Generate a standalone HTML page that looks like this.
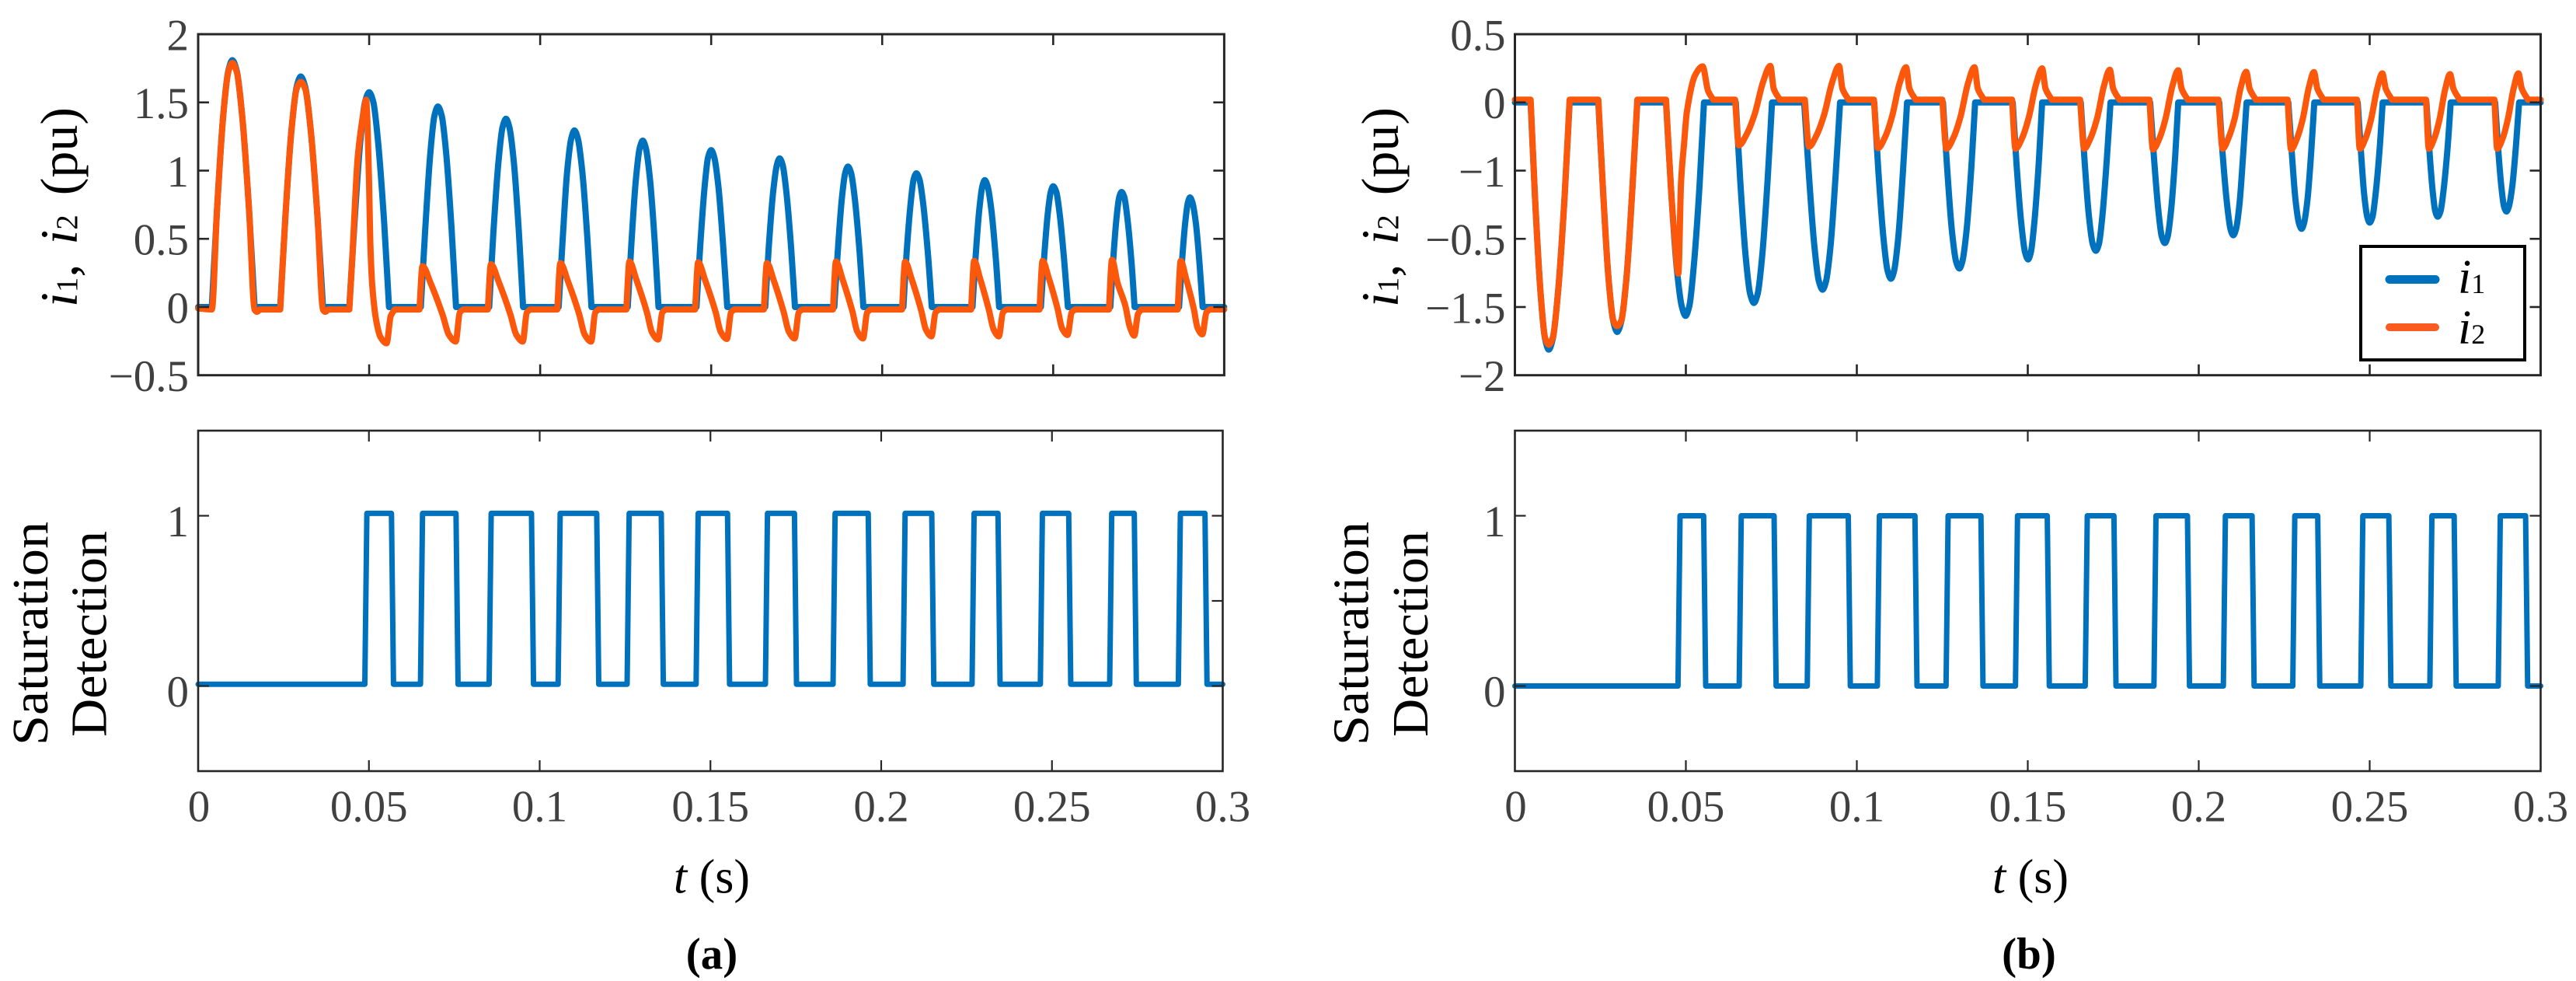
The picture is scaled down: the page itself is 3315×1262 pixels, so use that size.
<!DOCTYPE html>
<html lang="en">
<head>
<meta charset="utf-8">
<title>Saturation detection current waveforms</title>
<style>
html,body{margin:0;padding:0;background:#fff;}
svg{display:block;}
text{font-family:"Liberation Serif",serif;}
.tick{font-size:57px;fill:#404040;}
.lab{font-size:64px;fill:#000;}
</style>
</head>
<body>
<svg id="figure" xmlns="http://www.w3.org/2000/svg" width="3315" height="1262" viewBox="0 0 3315 1262">
<rect x="0" y="0" width="3315" height="1262" fill="#fff"/>
<g id="plots"></g>

<text class="lab" style="font-size:68px;word-spacing:8px" transform="translate(99 266.5) rotate(-90)" text-anchor="middle"><tspan font-style="italic">i</tspan><tspan font-size="39">1</tspan>, <tspan font-style="italic">i</tspan><tspan font-size="39">2</tspan> (pu)</text>
<text class="lab" style="font-size:68px;word-spacing:8px" transform="translate(1799 266.5) rotate(-90)" text-anchor="middle"><tspan font-style="italic">i</tspan><tspan font-size="39">1</tspan>, <tspan font-style="italic">i</tspan><tspan font-size="39">2</tspan> (pu)</text>

<text class="lab" style="font-size:66px" transform="translate(61 815) rotate(-90)" text-anchor="middle" textLength="288" lengthAdjust="spacingAndGlyphs">Saturation</text>
<text class="lab" style="font-size:66px" transform="translate(136.6 815.5) rotate(-90)" text-anchor="middle" textLength="265" lengthAdjust="spacingAndGlyphs">Detection</text>
<text class="lab" style="font-size:66px" transform="translate(1760.6 815) rotate(-90)" text-anchor="middle" textLength="288" lengthAdjust="spacingAndGlyphs">Saturation</text>
<text class="lab" style="font-size:66px" transform="translate(1837 815.5) rotate(-90)" text-anchor="middle" textLength="265" lengthAdjust="spacingAndGlyphs">Detection</text>

<text class="lab" x="916" y="1148.6" text-anchor="middle" style="font-size:62px"><tspan font-style="italic">t</tspan> (s)</text>
<text class="lab" x="2613" y="1148.6" text-anchor="middle" style="font-size:62px"><tspan font-style="italic">t</tspan> (s)</text>

<text class="lab" x="916" y="1246" text-anchor="middle" font-weight="bold" style="font-size:57px">(a)</text>
<text class="lab" x="2611" y="1246" text-anchor="middle" font-weight="bold" style="font-size:57px">(b)</text>

<g id="legend">
  <rect x="3038" y="317" width="211" height="146" fill="#fff" stroke="#000" stroke-width="4"/>
  <line x1="3075" y1="359.5" x2="3134" y2="359.5" stroke="#0072BD" stroke-width="11" stroke-linecap="round"/>
  <line x1="3075" y1="421" x2="3134" y2="421" stroke="#F95B20" stroke-width="10" stroke-linecap="round"/>
  <text x="3163" y="377" fill="#000" font-size="62"><tspan font-style="italic">i</tspan><tspan font-size="36">1</tspan></text>
  <text x="3163" y="442" fill="#000" font-size="62"><tspan font-style="italic">i</tspan><tspan font-size="36">2</tspan></text>
</g>
</svg>

<script>
/* ---------- x axis ---------- */
const xTicks = [0, 0.05, 0.1, 0.15, 0.2, 0.25, 0.3];
const xTickLabels = ['0', '0.05', '0.1', '0.15', '0.2', '0.25', '0.3'];

/* ---------- y axes ---------- */
const yTicksCurrentA = [2, 1.5, 1, 0.5, 0, -0.5];
const yTickLabelsCurrentA = ['2', '1.5', '1', '0.5', '0', '\u22120.5'];
const yTicksCurrentB = [0.5, 0, -0.5, -1, -1.5, -2];
const yTickLabelsCurrentB = ['0.5', '0', '\u22121', '\u22120.5', '\u22121.5', '\u22122'];
const yTicksDetection = [1, 0];
const yTickLabelsDetection = ['1', '0'];
const rightTicksDetectionA = [1, 0.5, 0];
const rightTicksDetectionB = [1, 0];

/* ---------- panel (a): i1 ---------- */
const timeA1 = [0,
.004,.0055,.0073,.0088,.01,.0113,.0129,.0149,.0165,
.024,.0255,.0273,.0288,.03,.0313,.0329,.0349,.0365,
.0442,.0457,.0474,.0488,.05,.0512,.0526,.0544,.0558,
.0651,.0664,.0679,.0691,.0701,.0712,.0725,.0741,.0754,
.0851,.0863,.0878,.089,.09,.091,.0923,.0938,.095,
.1054,.1066,.1079,.1091,.11,.111,.1123,.1138,.115,
.1256,.1267,.128,.1291,.13,.1309,.1321,.1335,.1346,
.1457,.1468,.1481,.1491,.15,.1509,.1521,.1535,.1547,
.1658,.1668,.1681,.1692,.17,.1709,.172,.1734,.1745,
.186,.187,.1882,.1892,.19,.1909,.192,.1934,.1945,
.2062,.2071,.2083,.2092,.21,.2109,.212,.2134,.2145,
.2264,.2273,.2284,.2293,.23,.2308,.2319,.2332,.2342,
.2464,.2473,.2484,.2493,.25,.2509,.2519,.2532,.2543,
.2667,.2675,.2685,.2693,.27,.2708,.2717,.2729,.2738,
.2868,.2876,.2886,.2894,.29,.2907,.2917,.2928,.2937,
.3];
const currentA1 = [0,
0,.706,1.394,1.729,1.81,1.729,1.394,.706,0,
0,.659,1.301,1.614,1.69,1.614,1.301,.659,0,
0,.614,1.213,1.504,1.575,1.504,1.213,.614,0,
0,.573,1.132,1.404,1.47,1.404,1.132,.573,0,
0,.538,1.063,1.318,1.38,1.318,1.063,.538,0,
0,.505,.997,1.237,1.295,1.237,.997,.505,0,
0,.476,.939,1.165,1.22,1.165,.939,.476,0,
0,.449,.886,1.098,1.15,1.098,.886,.449,0,
0,.425,.839,1.041,1.09,1.041,.839,.425,0,
0,.402,.793,.984,1.03,.984,.793,.402,0,
0,.382,.755,.936,.98,.936,.755,.382,0,
0,.363,.716,.888,.93,.888,.716,.363,0,
0,.345,.681,.845,.885,.845,.681,.345,0,
0,.329,.649,.805,.843,.805,.649,.329,0,
0,.313,.618,.767,.803,.767,.618,.313,0,
0];

/* ---------- panel (a): i2 ---------- */
const timeA2 = [0,
.004,.0055,.0073,.0088,.01,.0113,.0129,.0149,.0165,.0172,.018,
.024,.0255,.0273,.0288,.03,.0313,.0329,.0349,.0365,.0372,.038,
.0442,.045,.0467,.0485,.0491,.04997,.0503,.0509,.0521,.0533,.0551,.0563,.0575,
.0647,.0656,.068,.0715,.0733,.0753,.0765,.0775,
.0847,.0856,.0879,.0913,.093,.0949,.0961,.0971,
.105,.1059,.1081,.1114,.113,.1149,.1161,.1171,
.1252,.1261,.1281,.1312,.1327,.1345,.1357,.1367,
.1453,.1462,.1482,.1513,.1528,.1546,.1558,.1568,
.1654,.1663,.1683,.1712,.1727,.1744,.1756,.1766,
.1856,.1865,.1884,.1913,.1927,.1944,.1956,.1966,
.2058,.2067,.2086,.2114,.2128,.2144,.2156,.2166,
.226,.2269,.2286,.2312,.2326,.2341,.2353,.2363,
.246,.2469,.2487,.2513,.2526,.2542,.2554,.2564,
.2663,.2672,.2688,.2711,.2724,.2737,.2748,.2758,
.2864,.2873,.2888,.2911,.2922,.2936,.2948,.2958,
.3];
const currentA2 = [-.01,
-.018,.706,1.394,1.722,1.79,1.722,1.394,.706,-.02,-.035,-.018,
-.018,.659,1.301,1.6,1.65,1.6,1.301,.659,-.02,-.035,-.018,
-.018,.33,1.11,1.45,1.52,.92,.5,.16,-.105,-.22,-.266,-.066,-.018,
-.018,.30,.173,-.059,-.203,-.253,-.04,-.018,
-.018,.313,.183,-.055,-.202,-.253,-.04,-.018,
-.018,.322,.19,-.052,-.201,-.253,-.04,-.018,
-.018,.334,.202,-.038,-.186,-.238,-.04,-.018,
-.018,.328,.199,-.037,-.183,-.234,-.04,-.018,
-.018,.322,.195,-.037,-.18,-.23,-.04,-.018,
-.018,.334,.204,-.033,-.179,-.23,-.04,-.018,
-.018,.332,.206,-.024,-.166,-.215,-.04,-.018,
-.018,.338,.211,-.021,-.165,-.215,-.04,-.018,
-.018,.338,.213,-.015,-.156,-.205,-.04,-.018,
-.018,.346,.178,.009,-.145,-.21,-.05,-.018,
-.018,.338,.214,-.012,-.152,-.2,-.04,-.018,
-.018];

/* ---------- panel (a): detection flag ---------- */
const timeDetA = [0,
.0488,.0494,.0566,.0572,.0651,.0657,.0755,.0761,.0852,.0858,.0976,.0982,
.1054,.106,.1167,.1173,.1256,.1262,.1356,.1362,.1458,.1464,.155,.1556,
.1661,.1667,.1746,.1752,.1859,.1865,.1962,.1968,.2064,.207,.2148,.2154,
.2266,.2272,.2342,.2348,.2466,.2472,.2549,.2555,.2669,.2675,.2741,.2747,
.287,.2876,.2948,.2954,.3];
const levelDetA = [.01,
.01,1.014,1.014,.01,.01,1.014,1.014,.01,.01,1.014,1.014,.01,
.01,1.014,1.014,.01,.01,1.014,1.014,.01,.01,1.014,1.014,.01,
.01,1.014,1.014,.01,.01,1.014,1.014,.01,.01,1.014,1.014,.01,
.01,1.014,1.014,.01,.01,1.014,1.014,.01,.01,1.014,1.014,.01,
.01,1.014,1.014,.01,.01];

/* ---------- panel (b): i1 ---------- */
const timeB1 = [0,
.0046,.0059,.0075,.0088,.0099,.0111,.0126,.0145,.016,
.0244,.0258,.0274,.0288,.0299,.0311,.0326,.0343,.0358,
.0442,.0456,.0473,.0488,.0499,.051,.0523,.054,.0553,
.0646,.0659,.0675,.0688,.0699,.071,.0723,.0739,.0752,
.0846,.086,.0876,.0889,.09,.091,.0923,.0938,.0951,
.1051,.1063,.1078,.109,.11,.1109,.1121,.1135,.1147,
.1252,.1264,.1278,.129,.13,.1309,.1321,.1335,.1346,
.1456,.1467,.1481,.1492,.1501,.1509,.1519,.1532,.1542,
.1655,.1666,.1679,.169,.1699,.1708,.1718,.1731,.1742,
.1858,.1869,.1882,.1892,.1901,.1909,.1919,.1931,.194,
.206,.207,.2083,.2093,.2101,.2109,.2119,.213,.214,
.2262,.2272,.2283,.2293,.2301,.2308,.2318,.2329,.2338,
.2465,.2474,.2484,.2493,.25,.2508,.2517,.2529,.2538,
.2666,.2674,.2684,.2692,.2699,.2707,.2716,.2728,.2737,
.2867,.2875,.2885,.2893,.29,.2907,.2917,.2928,.2937,
.3];
const currentB1 = [0,
0,-.707,-1.395,-1.73,-1.812,-1.73,-1.395,-.707,0,
0,-.656,-1.296,-1.607,-1.683,-1.607,-1.296,-.656,0,
0,-.61,-1.205,-1.495,-1.565,-1.495,-1.205,-.61,0,
0,-.573,-1.132,-1.404,-1.47,-1.404,-1.132,-.573,0,
0,-.535,-1.057,-1.311,-1.373,-1.311,-1.057,-.535,0,
0,-.504,-.996,-1.235,-1.293,-1.235,-.996,-.504,0,
0,-.475,-.938,-1.163,-1.218,-1.163,-.938,-.475,0,
0,-.449,-.886,-1.099,-1.151,-1.099,-.886,-.449,0,
0,-.424,-.838,-1.039,-1.088,-1.039,-.838,-.424,0,
0,-.402,-.794,-.985,-1.031,-.985,-.794,-.402,0,
0,-.38,-.75,-.93,-.974,-.93,-.75,-.38,0,
0,-.362,-.714,-.885,-.927,-.885,-.714,-.362,0,
0,-.344,-.678,-.841,-.881,-.841,-.678,-.344,0,
0,-.327,-.645,-.8,-.838,-.8,-.645,-.327,0,
0,-.312,-.616,-.764,-.80,-.764,-.616,-.312,0,
0];

/* ---------- panel (b): i2 ---------- */
const timeB2 = [0,
.0046,.0059,.0075,.0088,.0099,.0111,.0126,.0145,.016,.0168,
.0244,.0258,.0274,.0288,.0299,.0311,.0326,.0343,.0358,.0366,
.0442,.0456,.0465,.0478,.0486,.0495,.0503,.0527,.0549,.0565,.058,
.0644,.0655,.0678,.0701,.0726,.0747,.0757,.0775,
.0848,.086,.0882,.0904,.0928,.0948,.0958,.0976,
.105,.1062,.1083,.1103,.1125,.1144,.1154,.1172,
.125,.1262,.1283,.1303,.1325,.1344,.1354,.1372,
.1454,.1464,.1484,.1503,.1524,.1542,.1552,.157,
.1653,.1665,.1684,.1703,.1723,.174,.175,.1768,
.1856,.1866,.1885,.1903,.1923,.194,.195,.1968,
.2058,.207,.2087,.2105,.2123,.2139,.2149,.2167,
.226,.227,.2287,.2304,.2322,.2337,.2347,.2365,
.2463,.2471,.2488,.2504,.2522,.2537,.2547,.2565,
.2665,.2673,.2689,.2704,.2721,.2735,.2745,.2763,
.2865,.2873,.2889,.2904,.2921,.2935,.2945,.2963,
.3];
const currentB2 = [.02,
.02,-.707,-1.395,-1.722,-1.777,-1.722,-1.395,-.707,.02,.02,
.02,-.656,-1.296,-1.6,-1.64,-1.6,-1.296,-.656,.02,.02,
.02,-.61,-.93,-1.255,-.58,-.296,-.068,.199,.264,.084,.02,
.02,-.315,-.233,-.088,.151,.268,.1,.02,
.02,-.325,-.242,-.094,.149,.268,.1,.02,
.02,-.335,-.252,-.104,.139,.258,.1,.02,
.02,-.34,-.256,-.107,.138,.258,.1,.02,
.02,-.34,-.258,-.11,.131,.249,.1,.02,
.02,-.34,-.259,-.114,.123,.239,.1,.02,
.02,-.345,-.264,-.118,.12,.236,.1,.02,
.02,-.34,-.261,-.12,.111,.224,.1,.02,
.02,-.345,-.266,-.124,.109,.222,.1,.02,
.02,-.34,-.263,-.124,.102,.213,.1,.02,
.02,-.34,-.263,-.127,.098,.207,.1,.02,
.02,-.34,-.263,-.124,.102,.213,.1,.02,
.02];

/* ---------- panel (b): detection flag ---------- */
const timeDetB = [0,
.0477,.0483,.0552,.0558,.0656,.0662,.0758,.0764,.0855,.0861,.0975,.0981,
.106,.1066,.117,.1176,.1261,.1267,.1363,.1369,.1464,.147,.1557,.1563,
.1668,.1674,.1752,.1758,.1869,.1875,.1967,.1973,.2072,.2078,.2156,.2162,
.2275,.2281,.2348,.2354,.2474,.248,.2556,.2562,.2676,.2682,.2747,.2753,
.2876,.2882,.2956,.2962,.3];
const levelDetB = [0,
0,1,1,0,0,1,1,0,0,1,1,0,
0,1,1,0,0,1,1,0,0,1,1,0,
0,1,1,0,0,1,1,0,0,1,1,0,
0,1,1,0,0,1,1,0,0,1,1,0,
0,1,1,0,0];

/* ---------- drawing ---------- */
const SVGNS = 'http://www.w3.org/2000/svg';
const plots = document.getElementById('plots');
const AXIS = '#262626';
const BLUE = '#0072BD';
const ORANGE = '#FB580C';

function make(tag, name, parent) {
  const el = document.createElementNS(SVGNS, tag);
  
  
  parent.appendChild(el);
  return el;
}
function scale(d0, d1, r0, r1) {
  return function (v) { return r0 + (v - d0) * (r1 - r0) / (d1 - d0); };
}
/* Straight path, or a monotone cubic through the samples that keeps flat runs flat. */
function pathFor(px, py, smooth) {
  let d = 'M' + px[0].toFixed(2) + ' ' + py[0].toFixed(2);
  const n = px.length;
  if (!smooth) {
    for (let i = 1; i < n; i++) d += 'L' + px[i].toFixed(2) + ' ' + py[i].toFixed(2);
    return d;
  }
  const s = [];
  for (let i = 0; i < n - 1; i++) {
    const dy = py[i + 1] - py[i];
    s.push(Math.abs(dy) < 0.01 ? 0 : dy / Math.max(px[i + 1] - px[i], 0.001));
  }
  const m = [];
  for (let i = 0; i < n; i++) {
    const a = i > 0 ? s[i - 1] : 0;
    const b = i < n - 1 ? s[i] : 0;
    if (a === 0) m.push(b);
    else if (b === 0) m.push(a);
    else if (a * b < 0) m.push(0);
    else m.push(2 * a * b / (a + b));
  }
  for (let i = 0; i < n - 1; i++) {
    if (s[i] === 0) {
      d += 'L' + px[i + 1].toFixed(2) + ' ' + py[i + 1].toFixed(2);
      continue;
    }
    const h = (px[i + 1] - px[i]) / 3;
    d += 'C' + (px[i] + h).toFixed(2) + ' ' + (py[i] + m[i] * h).toFixed(2) + ' ' +
         (px[i + 1] - h).toFixed(2) + ' ' + (py[i + 1] - m[i + 1] * h).toFixed(2) + ' ' +
         px[i + 1].toFixed(2) + ' ' + py[i + 1].toFixed(2);
  }
  return d;
}
function drawLine(g, s, sx, sy) {
  const p = make('path', s.name, g);
  p.setAttribute('d', pathFor(s.x.map(sx), s.y.map(sy), s.smooth));
  p.setAttribute('fill', 'none');
  p.setAttribute('stroke', s.color);
  p.setAttribute('stroke-width', s.width);
  p.setAttribute('stroke-linejoin', 'round');
  p.setAttribute('stroke-linecap', 'round');
}
function seg(g, name, x1, y1, x2, y2, w) {
  const l = make('line', name, g);
  l.setAttribute('x1', x1);
  l.setAttribute('y1', y1);
  l.setAttribute('x2', x2);
  l.setAttribute('y2', y2);
  l.setAttribute('stroke', AXIS);
  l.setAttribute('stroke-width', w);
}
function label(g, name, x, y, str, anchor) {
  const t = make('text', name, g);
  t.setAttribute('class', 'tick');
  t.setAttribute('x', x);
  t.setAttribute('y', y);
  t.setAttribute('text-anchor', anchor);
  t.textContent = str;
}
function drawPanel(c) {
  const g = make('g', c.name, plots);
  const sx = scale(0, 0.3, c.left, c.right);
  const sy = scale(c.yMin, c.yMax, c.bottom, c.top);
  c.series.forEach(function (s) {
    drawLine(g, s, sx, sy);
  });
  const frame = make('rect', c.name + '-frame', g);
  frame.setAttribute('x', c.left);
  frame.setAttribute('y', c.top);
  frame.setAttribute('width', c.right - c.left);
  frame.setAttribute('height', c.bottom - c.top);
  frame.setAttribute('fill', 'none');
  frame.setAttribute('stroke', AXIS);
  frame.setAttribute('stroke-width', c.lw);
  xTicks.forEach(function (t, i) {
    if (t > 0 && t < 0.3) {
      seg(g, 'x-tick-top', sx(t), c.top, sx(t), c.top + 14, c.lw - 0.4);
      seg(g, 'x-tick-bottom', sx(t), c.bottom, sx(t), c.bottom - 14, c.lw - 0.4);
    }
    if (c.xLabels) {
      label(g, 'x-tick-label', sx(t) + (i === 0 ? 1 : 0), 1056.5, xTickLabels[i], 'middle');
    }
  });
  c.yTicks.forEach(function (v, i) {
    if (v < c.yMax && v > c.yMin && c.leftTicks.indexOf(v) >= 0) {
      seg(g, 'y-tick-left', c.left, sy(v), c.left + 14, sy(v), c.lw - 0.4);
    }
    label(g, 'y-tick-label', c.left - 12, sy(v) + c.labelDy, c.yLabels[i], 'end');
  });
  c.rightTicks.forEach(function (v) {
    seg(g, 'y-tick-right', c.right, sy(v), c.right - 14, sy(v), c.lw - 0.4);
  });
}

drawPanel({
  name: 'current-plot-a', left: 255, right: 1575.4, top: 44, bottom: 482.7, lw: 3,
  yMin: -0.5, yMax: 2, labelDy: 20.5, xLabels: false,
  yTicks: yTicksCurrentA, yLabels: yTickLabelsCurrentA,
  leftTicks: [1.5, 1, 0.5, 0], rightTicks: [1.5, 1, 0.5, 0],
  series: [
    { name: 'series-i1-a', x: timeA1, y: currentA1, color: BLUE, width: 8, smooth: true },
    { name: 'series-i2-a', x: timeA2, y: currentA2, color: ORANGE, width: 8, smooth: true }
  ]
});
drawPanel({
  name: 'current-plot-b', left: 1949.5, right: 3269.5, top: 44, bottom: 482.7, lw: 3,
  yMin: -2, yMax: 0.5, labelDy: 20.5, xLabels: false,
  yTicks: yTicksCurrentB, yLabels: yTickLabelsCurrentB,
  leftTicks: [0, -0.5, -1, -1.5], rightTicks: [0, -0.5, -1, -1.5],
  series: [
    { name: 'series-i1-b', x: timeB1, y: currentB1, color: BLUE, width: 8, smooth: true },
    { name: 'series-i2-b', x: timeB2, y: currentB2, color: ORANGE, width: 8, smooth: true }
  ]
});
drawPanel({
  name: 'detection-plot-a', left: 255, right: 1573.5, top: 554, bottom: 992, lw: 2.6,
  yMin: -0.5, yMax: 1.5, labelDy: 26.5, xLabels: true,
  yTicks: yTicksDetection, yLabels: yTickLabelsDetection,
  leftTicks: [1, 0], rightTicks: rightTicksDetectionA,
  series: [
    { name: 'series-detection-a', x: timeDetA, y: levelDetA, color: BLUE, width: 7, smooth: false }
  ]
});
drawPanel({
  name: 'detection-plot-b', left: 1949.5, right: 3269.5, top: 554, bottom: 992, lw: 2.6,
  yMin: -0.5, yMax: 1.5, labelDy: 26.5, xLabels: true,
  yTicks: yTicksDetection, yLabels: yTickLabelsDetection,
  leftTicks: [1, 0], rightTicks: rightTicksDetectionB,
  series: [
    { name: 'series-detection-b', x: timeDetB, y: levelDetB, color: BLUE, width: 7, smooth: false }
  ]
});
</script>
</body>
</html>
